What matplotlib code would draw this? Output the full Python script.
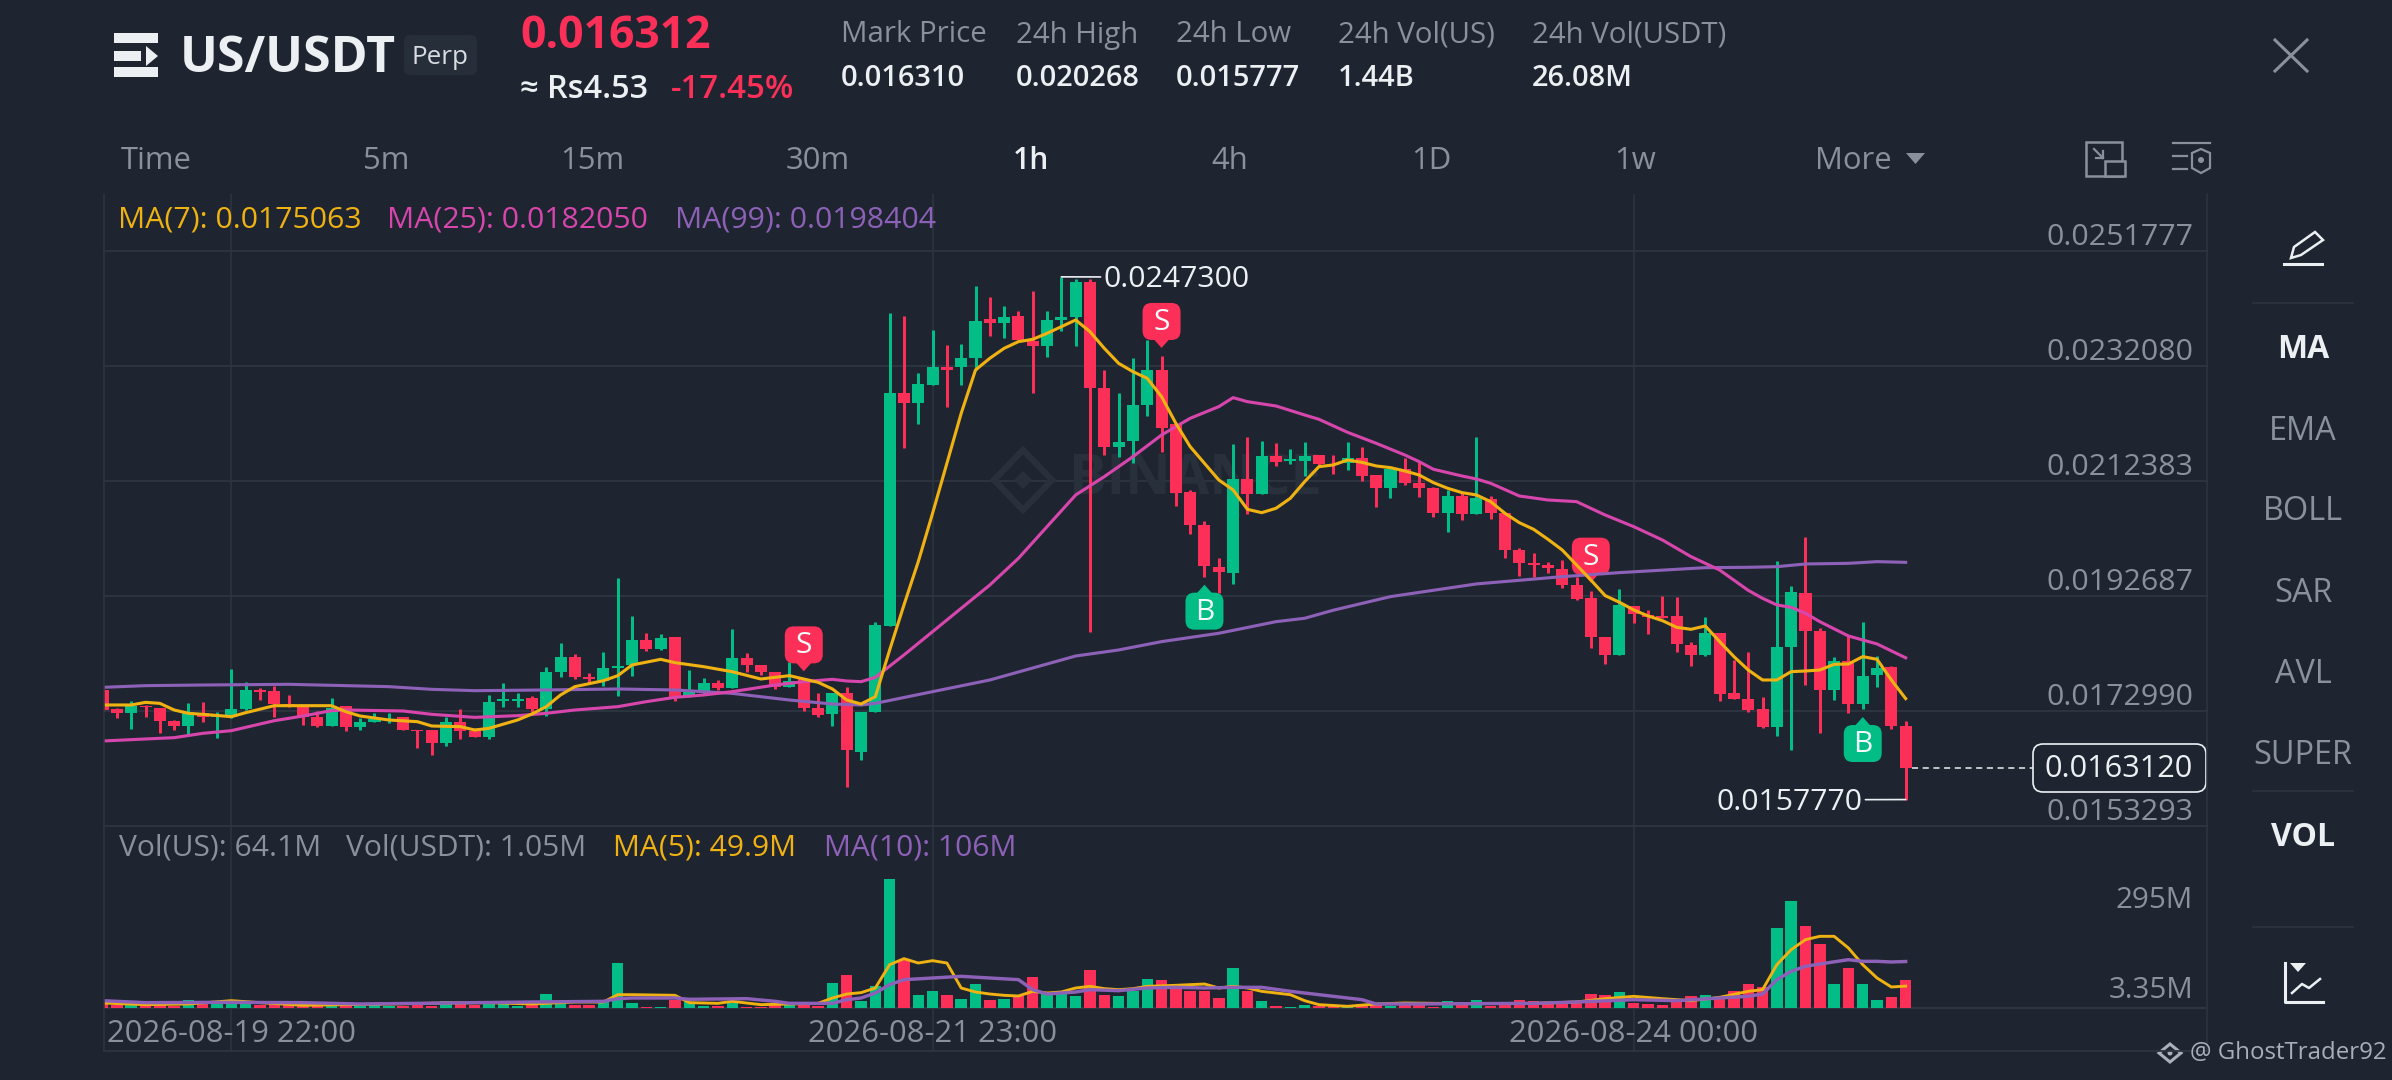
import numpy as np
import matplotlib
matplotlib.use("Agg")
import matplotlib.pyplot as plt
from matplotlib.patches import FancyBboxPatch, Polygon, Rectangle, Circle
from matplotlib.transforms import IdentityTransform

plt.rcParams["font.family"] = ["Open Sans", "DejaVu Sans"]

# candles, in millionths of a USDT
candle_open = [
    17653, 17322, 17265, 17379, 17339, 17128, 17037, 17254, 17197, 17185,
    17322, 17653, 17636, 17414, 17391, 17197, 17037, 17379, 17026, 17111,
    17140, 17185, 16968, 16968, 16740, 17105, 16957, 16854, 17459, 17465,
    17522, 17328, 17956, 18224, 17882, 17813, 18030, 18076, 18510, 18356,
    18555, 17551, 17625, 17773, 17682, 18207, 18076, 17956, 17711, 17836,
    17339, 17237, 17608, 16597, 17282, 18750, 22747, 22575, 22878, 23180,
    23180, 23335, 24003, 23940, 24065, 23637, 23546, 23991, 24048, 24648,
    22826, 21822, 21919, 22535, 23135, 22210, 21040, 20474, 19766, 19664,
    21268, 21011, 21668, 21576, 21576, 21679, 21519, 21536, 21622, 21331,
    21120, 21434, 21194, 21108, 20680, 20977, 20669, 20925, 20680, 20052,
    19835, 19795, 19727, 19453, 19224, 18568, 18254, 19099, 18939, 18927,
    18922, 18425, 18253, 18636, 17597, 17500, 17323, 17014, 18396, 19309,
    18670, 17654, 18151, 17414, 17911, 18042, 17043]
candle_high = [
    17680, 17339, 17465, 17397, 17339, 17140, 17425, 17454, 17282, 18007,
    17796, 17682, 17722, 17568, 17391, 17300, 17511, 17379, 17168, 17265,
    17254, 17197, 16968, 16968, 17185, 17322, 16997, 17568, 17779, 17596,
    17551, 18053, 18453, 18270, 17950, 18299, 19566, 18921, 18624, 18613,
    18555, 17996, 17853, 17825, 18693, 18293, 18076, 17956, 18139, 17836,
    17596, 17608, 17711, 17282, 18812, 24105, 24060, 23078, 23820, 23563,
    23580, 24573, 24379, 24231, 24151, 24493, 24151, 24730, 24688, 24688,
    23135, 22735, 23335, 23649, 23375, 22210, 21080, 20554, 19909, 21867,
    21993, 21924, 21879, 21776, 21907, 21679, 21679, 21896, 21822, 21331,
    21479, 21622, 21565, 21137, 21080, 21022, 21982, 20983, 20680, 20081,
    20006, 19852, 19881, 19595, 19355, 18568, 19378, 19099, 19024, 19270,
    19241, 18482, 18910, 18636, 18168, 18299, 17540, 19863, 19441, 20269,
    18721, 18225, 18596, 18813, 18236, 18071, 17129]
candle_low = [
    17290, 17168, 16986, 17197, 16911, 16968, 16883, 17100, 16837, 17168,
    17311, 17482, 17197, 17368, 17054, 17026, 17037, 16951, 16968, 17100,
    17094, 16968, 16654, 16540, 16700, 16814, 16843, 16814, 17368, 17368,
    17254, 17208, 17870, 17842, 17779, 17722, 17556, 17899, 18327, 18339,
    17471, 17539, 17568, 17653, 17682, 17967, 17910, 17671, 17711, 17300,
    17185, 17037, 16000, 16455, 17282, 18750, 21805, 22210, 22878, 22507,
    22878, 23135, 23717, 23677, 23649, 22747, 23352, 23808, 23552, 18653,
    21679, 21639, 21536, 22353, 21736, 20805, 20326, 19595, 19310, 19470,
    20668, 21011, 21491, 21525, 21319, 21508, 21354, 21422, 21234, 20794,
    20948, 21165, 20965, 20611, 20355, 20566, 20669, 20583, 19909, 19607,
    19584, 19652, 19395, 19196, 18368, 18099, 18254, 18796, 18608, 18882,
    18311, 18065, 18236, 17465, 17494, 17283, 16997, 16872, 16626, 17739,
    16912, 17483, 17254, 17328, 17711, 16980, 15777]
candle_close = [
    17311, 17265, 17385, 17357, 17117, 17037, 17254, 17185, 17220, 17322,
    17653, 17619, 17414, 17391, 17197, 17037, 17339, 17026, 17105, 17151,
    17162, 16968, 16951, 16740, 17100, 16957, 16843, 17442, 17494, 17499,
    17328, 17956, 18213, 17882, 17836, 18025, 18065, 18510, 18350, 18538,
    17528, 17619, 17768, 17688, 18207, 18082, 17962, 17711, 17813, 17351,
    17225, 17608, 16626, 17282, 18761, 22747, 22564, 22895, 23192, 23135,
    23335, 23980, 23934, 24042, 23649, 23546, 23991, 24037, 24648, 22821,
    21822, 21907, 22535, 23135, 22136, 21022, 20480, 19778, 19669, 21262,
    21011, 21668, 21553, 21610, 21668, 21525, 21502, 21622, 21319, 21120,
    21434, 21194, 21108, 20680, 20977, 20663, 20937, 20680, 20052, 19835,
    19801, 19738, 19453, 19213, 18568, 18254, 19110, 18950, 18910, 18893,
    18436, 18254, 18624, 17585, 17500, 17311, 17014, 18396, 19327, 18670,
    17654, 18156, 17414, 17899, 18036, 17037, 16312]

ma7_idx = [0, 2, 3, 4, 5, 6, 7, 9, 10, 12, 14, 16, 17, 18, 20, 22, 23, 25, 26, 27,
           29, 30, 31, 32, 33, 35, 36, 37, 39, 40, 42, 44, 46, 48, 50, 51, 52, 53, 54,
           55, 56, 57, 58, 59, 60, 61, 62, 63, 64, 65, 66, 67, 68, 69, 70, 71, 72, 73,
           74, 75, 76, 77, 78, 79, 80, 81, 82, 83, 84, 85, 86, 87, 88, 89, 90, 91, 92,
           93, 94, 95, 96, 97, 98, 99, 100, 101, 102, 103, 104, 105, 106, 107, 108, 109,
           110, 111, 112, 113, 114, 115, 116, 117, 118, 119, 120, 121, 122, 123, 124, 125, 126]
ma7_val = [17397, 17397, 17442, 17425, 17311, 17254, 17237, 17197, 17265, 17385, 17385, 17385,
           17282, 17208, 17140, 17111, 17037, 17026, 16968, 16997,
           17140, 17242, 17368, 17568, 17711, 17813, 17899, 18082, 18179, 18122, 18053, 17967,
           17842, 17899, 17785, 17671, 17482, 17414, 17539,
           18339, 19110, 19852, 20680, 21536, 22393, 23135, 23335, 23506, 23620, 23660, 23763,
           23877, 23991, 23791, 23506, 23249, 23106, 22992,
           22678, 22221, 21822, 21536, 21251, 21080, 20748, 20691, 20766, 20937, 21222, 21479,
           21508, 21593, 21553, 21491, 21462, 21405, 21336,
           21205, 21108, 21034, 20994, 20880, 20680, 20520, 20406, 20235, 20052, 19795, 19538,
           19270, 19156, 19024, 18922, 18842,
           18727, 18693, 18750, 18482, 18225, 17996, 17825, 17825, 17968, 17979, 17996, 18093,
           18099, 18225, 18179, 17825, 17506]

ma25_idx = [0, 4, 5, 7, 9, 12, 14, 16, 17, 21, 23, 26, 29, 31, 33, 36, 38, 40, 42, 44, 47, 49,
            51, 52, 53, 54, 56, 58, 60, 62, 64, 66, 68, 70, 72, 74, 76, 78, 79, 80, 82, 84, 85,
            87, 89, 91, 92, 93, 95, 96, 97, 99, 101, 103, 105, 107, 109, 111, 113, 115, 116,
            117, 118, 119, 120, 122, 124, 126]
ma25_val = [16780, 16826, 16837, 16911, 16957, 17128, 17208, 17300, 17311, 17294, 17237, 17185,
            17214, 17254, 17311, 17368, 17454, 17528, 17568, 17625, 17739, 17796,
            17836, 17808, 17796, 17870, 18254, 18653, 19053, 19452, 19909, 20452, 20994, 21308,
            21650, 22021, 22307, 22507, 22661, 22592, 22518, 22364, 22290,
            22067, 21879, 21679, 21565, 21434, 21319, 21268, 21194, 20977, 20908, 20880, 20651,
            20451, 20223, 19938, 19709, 19360, 19224,
            19110, 19070, 18967, 18824, 18579, 18442, 18205]

ma99_idx = [0, 3, 7, 13, 20, 23, 26, 31, 36, 40, 44, 48, 51, 53, 54, 62, 68, 71, 74, 78, 82, 84,
            86, 90, 96, 102, 106, 112, 115, 117, 119, 122, 124, 126]
ma99_val = [17699, 17728, 17739, 17751, 17711, 17665, 17642, 17654, 17671, 17654, 17596, 17482,
            17414, 17397, 17425, 17825, 18236, 18339, 18482, 18625, 18824, 18882,
            19020, 19253, 19470, 19595, 19664, 19749, 19755, 19766, 19812, 19823, 19852, 19840]

# volume, millions of US
volume = [
    10.6, 7.6, 9.1, 6.1, 6.1, 4.6, 18.2, 13.7, 11.4, 16.7,
    15.2, 6.1, 10.6, 7.6, 7.6, 6.1, 7.6, 7.6, 4.6, 7.6,
    4.6, 4.6, 6.1, 4.6, 16.7, 10.6, 6.1, 9.1, 9.1, 4.6,
    10.6, 31.9, 13.7, 7.6, 7.6, 13.7, 103, 12.2, 3.4, 3.4,
    19, 13.7, 3.8, 3.8, 11.4, 3.4, 3.4, 6.1, 9.1, 6.1,
    4.6, 57, 76, 15.2, 49.4, 295, 110, 30.4, 39.5, 30.4,
    20.5, 54.7, 18.2, 20.5, 26.6, 70.7, 31.9, 34.2, 28.1, 87.4,
    28.9, 27.4, 38, 66.1, 64.6, 47.1, 39.5, 39.5, 22.8, 91.2,
    39.5, 15.2, 4.6, 3.4, 7.6, 3.8, 3.8, 6.1, 9.1, 10.6,
    4.6, 10.6, 10.6, 3.4, 15.2, 6.1, 18.2, 3.8, 13.7, 18.2,
    15.2, 10.6, 12.2, 13.7, 31.9, 30.4, 35.7, 10.6, 9.1, 7.6,
    15.2, 28.1, 29.6, 21.3, 38, 54.7, 47.1, 182, 243, 187,
    146, 55.5, 91.2, 54.7, 18.2, 24.3, 64.1]

vol_ma5_idx = [0, 3, 6, 9, 11, 14, 17, 20, 24, 27, 30, 33, 35, 36, 37, 40, 41, 43, 44, 46,
               50, 51, 52, 53, 54, 55, 56, 57, 58, 59, 60, 61, 62, 63, 64, 65, 66, 67, 68, 69,
               70, 71, 72, 73, 75, 77, 78, 79, 80, 81, 83, 84, 85, 87, 89, 91, 95, 100, 103, 105,
               107, 109, 111, 113, 115, 116, 117, 118, 119, 120, 121, 122, 123, 124, 125, 126]
vol_ma5_val = [11.4, 7.6, 9.1, 16.7, 12.2, 6.1, 7.6, 9.1, 11.4, 12.2,
               9.1, 13.7, 13.7, 30.4, 30.4, 28.9, 12.2, 10.6, 15.2, 7.6,
               10.6, 22.8, 31.9, 35, 45.6, 98.8, 112.5, 102.6, 107.9, 102.6,
               45.6, 36.5, 31.9, 28.9, 27.4, 38, 34.2, 36.5, 45.6, 49.4,
               44.1, 41.8, 44.1, 49.4, 51.7, 54.7, 45.6, 49.4, 45.6, 38,
               30.4, 16.7, 7.6, 3.8, 9.1, 11.4, 9.9, 10.6, 13.7, 21.3,
               26.6, 21.3, 16.7, 24.3, 38, 41.8, 98.8, 133, 155.8, 163.4,
               163.4, 136.8, 98.8, 68.4, 47.9, 49.9]

vol_ma10_idx = [0, 3, 8, 14, 18, 22, 30, 35, 36, 37, 40, 41, 45, 47, 48, 51, 52, 53, 54, 55,
                56, 58, 60, 62, 64, 65, 66, 68, 69, 71, 73, 75, 77, 79, 81, 83, 85, 87, 88, 89,
                91, 100, 103, 107, 110, 113, 115, 116, 117, 118, 119, 120, 122, 123, 124, 125, 126]
vol_ma10_val = [16.7, 12.2, 12.9, 12.2, 9.1, 10.6, 13.7, 15.2, 21.3, 22.8,
                22.8, 19.8, 21.3, 15.2, 10.6, 10.6, 19, 22.8, 34.2, 53.2,
                64.6, 68.4, 72.2, 68.4, 64.6, 41.8, 31.9, 36.5, 41.8, 39.5,
                45.6, 47.1, 45.6, 47.1, 47.1, 38, 30.4, 22.8, 19, 9.1,
                9.1, 10.6, 13.7, 19, 16.7, 22.8, 26.6, 31.9, 64.6, 83.6,
                95, 100.3, 110.2, 106.4, 106.4, 104.9, 106]

price_ticks = [0.0251777, 0.0232080, 0.0212383, 0.0192687, 0.0172990, 0.0153293]
date_idx = [9, 58, 107]
date_labels = ["2026-08-19 22:00", "2026-08-21 23:00", "2026-08-24 00:00"]
sell_marks = [49, 74, 104]
buy_marks = [77, 123]
timeframes = ["Time", "5m", "15m", "30m", "1h", "4h", "1D", "1w", "More"]
side_items = ["MA", "EMA", "BOLL", "SAR", "AVL", "SUPER", "VOL"]
stat_names = ["Mark Price", "24h High", "24h Low", "24h Vol(US)", "24h Vol(USDT)"]
stat_values = ["0.016310", "0.020268", "0.015777", "1.44B", "26.08M"]

BG = "#1e2530"
GRID = "#2d3540"
MARK_BG = "#28303b"
UP = "#02bd85"
DOWN = "#fb2f58"
YELLOW = "#efb212"
PINK = "#d746ac"
PURPLE = "#8d61b8"
GRAY = "#89919d"
WHITE = "#edf0f3"

W, H = 2392, 1080
PX = 0.72  # points per pixel at dpi 100
X0, X1 = 104, 2207
Y_MAIN_TOP, Y_MAIN_BOT, Y_VOL_BOT = 194, 825.7, 1051
XLIM = ((X0 - 102.6) / 14.31, (X1 - 102.6) / 14.31)


def fs(px):
    return px * PX


def panel(top, bottom):
    a = fig.add_axes([X0 / W, 1 - bottom / H, (X1 - X0) / W, (bottom - top) / H])
    a.patch.set_visible(False)
    a.set_xlim(*XLIM)
    a.set_xticks([])
    a.set_yticks([])
    for s in a.spines.values():
        s.set_visible(False)
    return a


def signal(ax, k, price, label, color, above):
    # pin shaped S / B marker, drawn in display pixels from the candle's position
    x, y = ax.transData.transform((k, price))
    sign = 1 if above else -1
    tip = y + sign * 8
    w, h = 38, 37
    cy = tip + sign * (8 + h / 2)
    ax.add_patch(FancyBboxPatch((x - w / 2 + 9, cy - h / 2 + 9), w - 18, h - 18,
                                boxstyle="round,pad=9,rounding_size=9", fc=color, ec="none",
                                transform=IdentityTransform(), zorder=3, clip_on=False))
    ax.add_patch(Polygon([(x - 8, tip + sign * 9), (x + 8, tip + sign * 9), (x, tip)], fc=color,
                         ec="none", transform=IdentityTransform(), zorder=3, clip_on=False))
    ax.text(x, cy - 1, label, color="#f3fbf8", fontsize=fs(30), ha="center", va="center",
            transform=IdentityTransform(), zorder=3.5)


fig = plt.figure(figsize=(W / 100, H / 100), dpi=100, facecolor=BG)

# price panel
o = np.array(candle_open) / 1e6
hi = np.array(candle_high) / 1e6
lo = np.array(candle_low) / 1e6
c = np.array(candle_close) / 1e6
idx = np.arange(len(o))
colors = [UP if b >= a else DOWN for a, b in zip(o, c)]

ax = panel(Y_MAIN_TOP, Y_MAIN_BOT)
per_px = (price_ticks[0] - price_ticks[1]) / 115
ax.set_ylim(price_ticks[-1], price_ticks[-1] + (Y_MAIN_BOT - Y_MAIN_TOP) * per_px)
for v in price_ticks:
    ax.axhline(v, color=GRID, lw=1.3, zorder=0, clip_on=False)
    ax.annotate(f"{v:.7f}", (1, v), xycoords=ax.get_yaxis_transform(), xytext=(-14 * PX, 13 * PX),
                textcoords="offset points", ha="right", va="center", color=GRAY, fontsize=fs(30.4))
for k in date_idx:
    ax.axvline(k, color=GRID, lw=1.1, zorder=0)
ax.text(0.459, 0.547, "BINANCE", transform=ax.transAxes, color=MARK_BG, fontsize=fs(56),
        fontweight="bold", ha="left", va="center", zorder=0.5)

ax.vlines(idx, lo, hi, colors=colors, lw=3 * PX, zorder=2)
ax.bar(idx, c - o, bottom=o, width=0.84, color=colors, zorder=2.1)

for xs, ys, col in [(ma99_idx, ma99_val, PURPLE), (ma25_idx, ma25_val, PINK), (ma7_idx, ma7_val, YELLOW)]:
    ax.plot(xs, np.array(ys) / 1e6, color=col, lw=3.1 * PX, zorder=4, solid_joinstyle="round")

fig.canvas.draw()
for k in sell_marks:
    signal(ax, k, hi[k], "S", DOWN, True)
for k in buy_marks:
    signal(ax, k, lo[k], "B", UP, False)

# high, low and last price notes
k_high = int(np.argmax(hi))
k_low = int(np.argmin(lo))
ax.annotate(f"{hi[k_high]:.7f}", (k_high, hi[k_high]), xytext=(42 * PX, -3 * PX), textcoords="offset points",
            color=WHITE, fontsize=fs(30.3), va="center", ha="left", zorder=6,
            arrowprops=dict(arrowstyle="-", color=WHITE, lw=1.2, shrinkA=0, shrinkB=0, relpos=(0, 0.6)))
ax.annotate(f"{lo[k_low]:.7f}", (k_low, lo[k_low]), xytext=(-43 * PX, -3 * PX), textcoords="offset points",
            color=WHITE, fontsize=fs(30.3), va="center", ha="right", zorder=6,
            arrowprops=dict(arrowstyle="-", color=WHITE, lw=1.2, shrinkA=0, shrinkB=0, relpos=(1, 0.6)))
last = c[-1]
ax.plot([idx[-1] + 0.42, (2033 - 102.6) / 14.31], [last, last], color=WHITE, lw=1.1,
        dashes=(4, 3), zorder=5)

# volume panel
vax = panel(Y_MAIN_BOT, Y_VOL_BOT)
vol_per_px = 2.28
vax.set_ylim(-(Y_VOL_BOT - 1008) * vol_per_px, (1008 - Y_MAIN_BOT) * vol_per_px)
vax.axhline(0, color=GRID, lw=1.6, zorder=0)
for k in date_idx:
    vax.axvline(k, color=GRID, lw=1.1, zorder=0)
vax.bar(idx, volume, width=0.8, color=colors, zorder=2)
vax.plot(vol_ma5_idx, vol_ma5_val, color=YELLOW, lw=2.9 * PX, zorder=3)
vax.plot(vol_ma10_idx, vol_ma10_val, color=PURPLE, lw=3.4 * PX, zorder=3.1)
for k, lab in zip(date_idx, date_labels):
    vax.annotate(lab, (k, 0), xytext=(0, -26 * PX), textcoords="offset points", ha="center",
                 va="center", color=GRAY, fontsize=fs(31))

# everything around the chart, in image pixels
ui = fig.add_axes([0, 0, 1, 1], zorder=5)
ui.patch.set_visible(False)
ui.set_xlim(0, W)
ui.set_ylim(H, 0)
ui.axis("off")


def txt(x, y, s, color=GRAY, size=29, weight="normal", ha="left"):
    ui.text(x, y + 6, s, color=color, fontsize=fs(size), fontweight=weight, ha=ha, va="center")


for x in [X0, X1]:
    ui.plot([x, x], [194, 1051], color=GRID, lw=1.1)
ui.plot([X0, X1], [1051, 1051], color=GRID, lw=1.3)

# header
ui.add_patch(Rectangle((114, 33), 44, 10, fc=WHITE, ec="none"))
ui.add_patch(Rectangle((114, 67), 44, 10, fc=WHITE, ec="none"))
ui.add_patch(Rectangle((114, 51), 27, 10, fc=WHITE, ec="none"))
ui.add_patch(Polygon([(146, 46), (158, 56), (146, 66)], fc=WHITE, ec="none"))
txt(180, 53, "US/USDT", WHITE, 50, "bold")
ui.add_patch(FancyBboxPatch((410, 41), 61, 28, boxstyle="round,pad=6,rounding_size=6", fc="#262e3a", ec="none"))
txt(440, 51, "Perp", "#d9dde2", 26, ha="center")
txt(520, 30, "0.016312", DOWN, 44.5, "bold")
txt(520, 84, "≈ Rs4.53", WHITE, 32.5, "semibold")
txt(671, 84, "-17.45%", DOWN, 33, "semibold")
for x, name, val in zip([841, 1016, 1176, 1338, 1532], stat_names, stat_values):
    txt(x, 29, name, GRAY, 29.4)
    txt(x, 73, val, WHITE, 29, "semibold")
ui.plot([2275, 2307], [40, 71], color=GRAY, lw=2.2)
ui.plot([2275, 2307], [71, 40], color=GRAY, lw=2.2)

# timeframe row
for x, name in zip([156, 386, 592, 818, 1031, 1230, 1431, 1635, 1853], timeframes):
    if name == "1h":
        txt(x, 155, name, WHITE, 30, "semibold", ha="center")
    else:
        txt(x, 155, name, GRAY, 31, ha="center")
ui.add_patch(Polygon([(1906, 153), (1925, 153), (1915.5, 164)], fc=GRAY, ec="none"))

# toolbar icons
ui.add_patch(Rectangle((2086, 142), 36, 34, fc="none", ec=GRAY, lw=1.8))
ui.add_patch(Rectangle((2105, 161), 20, 15, fc=BG, ec=GRAY, lw=1.8))
ui.plot([2094, 2103], [149, 158], color=GRAY, lw=1.6)
ui.plot([2103, 2103, 2096], [151, 158, 158], color=GRAY, lw=1.6)
ui.plot([2173, 2210], [143, 143], color=GRAY, lw=1.6)
ui.plot([2173, 2187], [156, 156], color=GRAY, lw=1.6)
ui.plot([2173, 2187], [169, 169], color=GRAY, lw=1.6)
ui.add_patch(Polygon([(2192, 153), (2201, 149), (2210, 153), (2210, 168), (2201, 173), (2192, 168)], fc="none", ec=GRAY, lw=1.6))
ui.add_patch(Circle((2201, 160), 3, fc=GRAY, ec="none"))

# indicator legends
txt(118, 214, "MA(7): 0.0175063", YELLOW, 30.3)
txt(387, 214, "MA(25): 0.0182050", PINK, 30.3)
txt(675, 214, "MA(99): 0.0198404", PURPLE, 30.3)
txt(119, 842, "Vol(US): 64.1M", GRAY, 30)
txt(346, 842, "Vol(USDT): 1.05M", GRAY, 30)
txt(613, 842, "MA(5): 49.9M", YELLOW, 30)
txt(824, 842, "MA(10): 106M", PURPLE, 30)
txt(2193, 894, "295M", GRAY, 29.5, ha="right")
txt(2193, 985, "3.35M", GRAY, 29.5, ha="right")

# last price tag
ui.add_patch(FancyBboxPatch((2043, 754), 153, 28, boxstyle="round,pad=10,rounding_size=10", fc=BG, ec=WHITE, lw=1.2))
txt(2193, 763, f"{last:.7f}", WHITE, 30.8, ha="right")

# side menu
for y in [303, 790.6, 927]:
    ui.plot([2253, 2353], [y, y], color=GRID, lw=1.1)
for y, name in zip([345.6, 427, 508, 589, 670.6, 752, 833], side_items):
    if name in ("MA", "VOL"):
        txt(2303, y - 2, name, WHITE, 32, "bold", ha="center")
    else:
        txt(2303, y - 2, name, GRAY, 32.5, ha="center")
ui.add_patch(Polygon([(2294, 247), (2315, 232), (2323, 240), (2301, 255), (2291, 258)], fc="none", ec=WHITE, lw=1.8))
ui.plot([2284, 2322], [264, 264], color=WHITE, lw=2.2)
ui.plot([2285, 2285, 2323], [963, 1002, 1002], color=WHITE, lw=2.2)
ui.plot([2292, 2302, 2309, 2320], [993, 984, 988, 979], color=WHITE, lw=1.8)
ui.add_patch(Polygon([(2290, 963), (2306, 963), (2298, 972)], fc=WHITE, ec="none"))

# watermarks
ui.add_patch(Polygon([(1023, 450), (1052, 480), (1023, 510), (994, 480)], fc="none", ec=MARK_BG, lw=4.5, zorder=0))
ui.add_patch(Polygon([(1023, 471), (1032, 480), (1023, 489), (1014, 480)], fc=MARK_BG, ec="none", zorder=0))
ui.add_patch(Polygon([(2170, 1044), (2181, 1053), (2170, 1062), (2159, 1053)], fc="none", ec="#aab1bb", lw=2.2))
ui.add_patch(Circle((2170, 1053), 2.5, fc="#aab1bb", ec="none"))
txt(2190, 1047, "@ GhostTrader92", "#a8afb8", 24)

fig.savefig("out.png", dpi=100, facecolor=BG)
